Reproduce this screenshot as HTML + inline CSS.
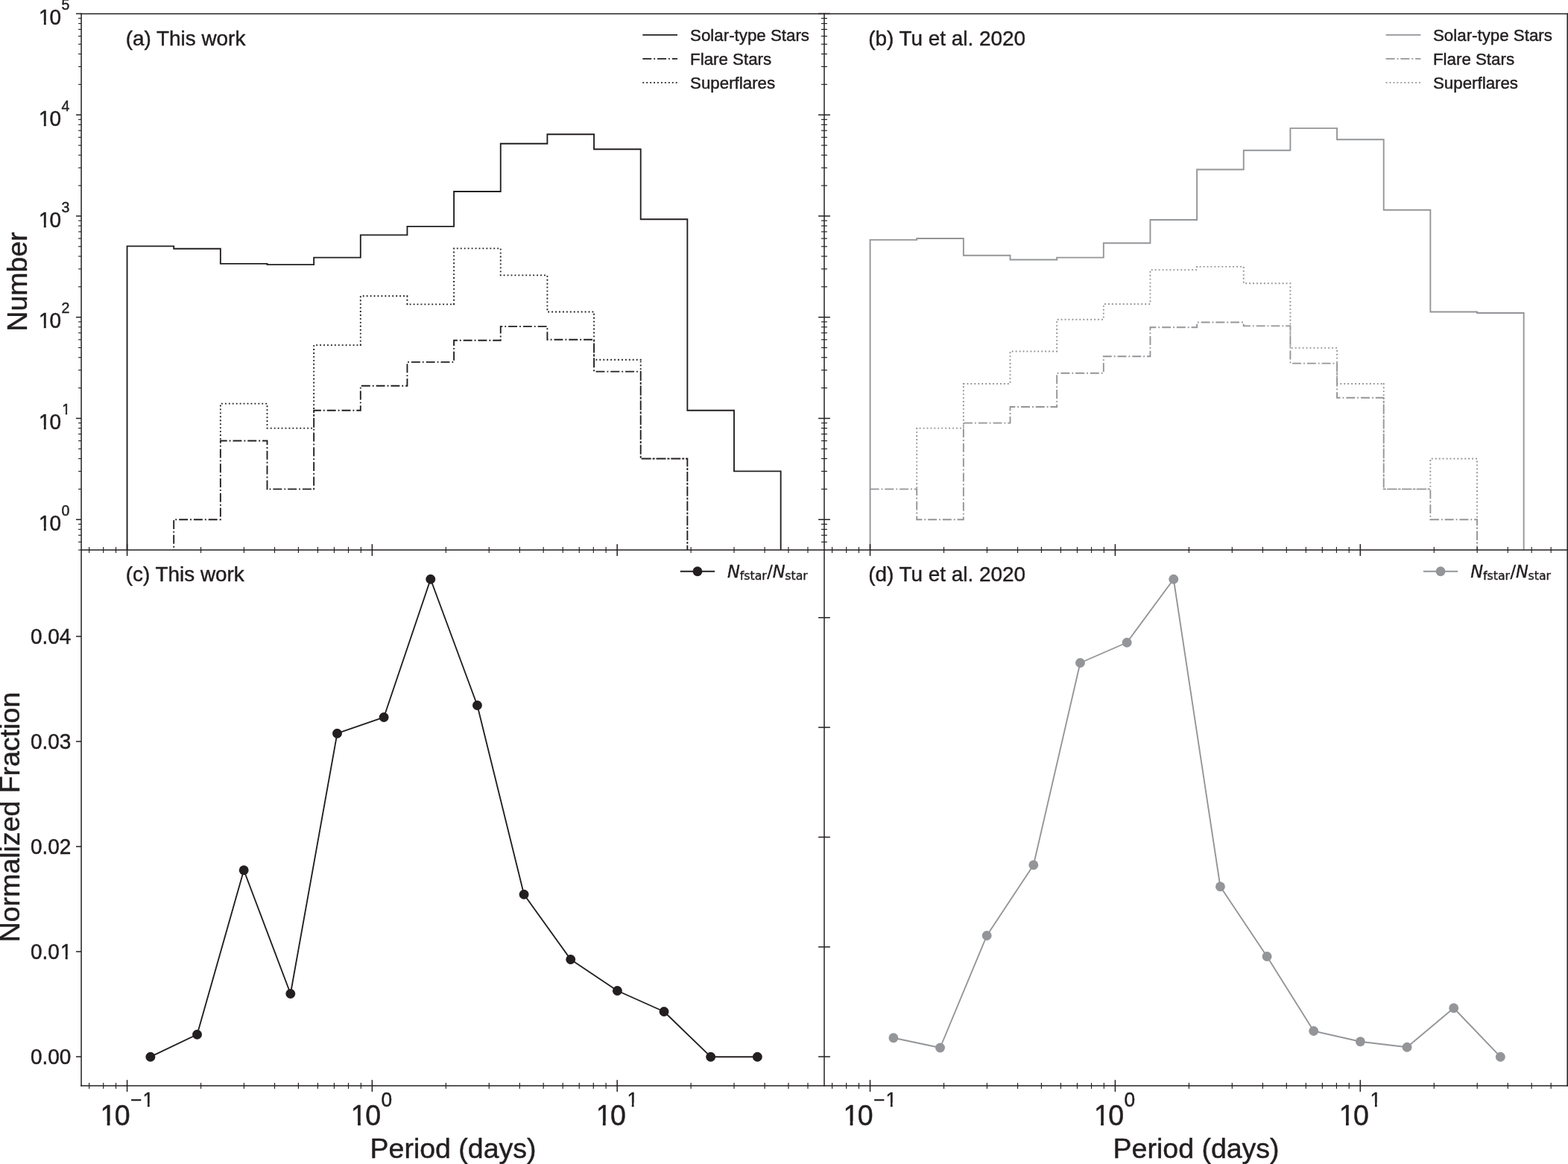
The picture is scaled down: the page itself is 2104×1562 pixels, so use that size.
<!DOCTYPE html>
<html lang="en">
<head>
<meta charset="utf-8">
<title>Period distributions of solar-type stars, flare stars and superflares</title>
<style>
html, body { margin: 0; padding: 0; background: #fff; }
body { width: 2104px; height: 1562px; overflow: hidden; }
svg { display: block; }
text { white-space: pre; }
</style>
</head>
<body>
<svg xmlns="http://www.w3.org/2000/svg" width="2104" height="1562" viewBox="0 0 2104 1562">
<rect width="2104" height="1562" fill="#fff"/>
<defs><clipPath id="k0"><path clip-rule="evenodd" d="M-9 -28H40.14V11.2H-9ZM1.75 -5.09H7.94V2H1.75ZM10.87 -5.09H16.82V2H10.87Z"/></clipPath><clipPath id="k1"><path clip-rule="evenodd" d="M-9 -19.6H19.9V7.84H-9ZM0.77 -4.46H5.49V2H0.77ZM7.67 -4.46H12.22V2H7.67Z"/></clipPath><clipPath id="k2"><path clip-rule="evenodd" d="M-9 -28H63.5V11.2H-9ZM40.67 -5.09H46.86V2H40.67ZM49.79 -5.09H55.74V2H49.79Z"/></clipPath><clipPath id="k3"><path clip-rule="evenodd" d="M-9 -37.5H50.71V15H-9ZM2.85 -5.8H10.71V2H2.85ZM14.48 -5.8H22.01V2H14.48Z"/></clipPath><clipPath id="k4"><path clip-rule="evenodd" d="M-9 -26.25H38.93V10.5H-9ZM16.87 -4.96H22.76V2H16.87ZM25.53 -4.96H31.19V2H25.53Z"/></clipPath><clipPath id="k5"><path clip-rule="evenodd" d="M-9 -26.25H23.6V10.5H-9ZM1.54 -4.96H7.43V2H1.54ZM10.2 -4.96H15.86V2H10.2Z"/></clipPath></defs>
<g fill="none" stroke="#231f20" stroke-width="1.875" stroke-linejoin="miter">
<path d="M608.16 333.32H609.82M612.89 333.32H614.76M617.83 333.32H619.7M622.77 333.32H624.64M627.71 333.32H629.58M632.65 333.32H634.52M637.59 333.32H639.46M642.53 333.32H644.4M647.47 333.32H649.34M652.41 333.32H654.28M657.35 333.32H659.22M662.29 333.32H664.16M667.23 333.32H669.1M670.81 369.34H672.59M675.67 369.34H677.53M680.61 369.34H682.47M685.55 369.34H687.41M690.49 369.34H692.35M695.43 369.34H697.29M700.37 369.34H702.23M705.31 369.34H707.17M710.25 369.34H712.11M715.19 369.34H717.05M720.13 369.34H721.99M725.07 369.34H726.93M730.01 369.34H731.87M486.77 397.24H488.63M491.71 397.24H493.57M496.65 397.24H498.51M501.59 397.24H503.45M506.53 397.24H508.39M511.47 397.24H513.33M516.41 397.24H518.27M521.35 397.24H523.21M526.29 397.24H528.15M531.23 397.24H533.09M536.17 397.24H538.03M541.11 397.24H542.97M546.05 397.24H547.39M545.51 408.43H546.6M549.68 408.43H551.54M554.62 408.43H556.48M559.56 408.43H561.42M564.5 408.43H566.36M569.44 408.43H571.3M574.38 408.43H576.24M579.32 408.43H581.18M584.26 408.43H586.12M589.2 408.43H591.06M594.14 408.43H596M599.08 408.43H600.94M604.02 408.43H605.88M608.96 408.43H610.04M735.22 418.48H737.08M740.16 418.48H742.02M745.1 418.48H746.96M750.04 418.48H751.9M754.98 418.48H756.84M759.92 418.48H761.78M764.86 418.48H766.72M769.8 418.48H771.66M774.74 418.48H776.6M779.68 418.48H781.54M784.62 418.48H786.48M789.56 418.48H791.42M794.5 418.48H796.36M670.81 438.11H674.27M677.26 438.11H679.12M682.11 438.11H694.05M697.03 438.11H698.9M701.88 438.11H713.82M716.81 438.11H718.67M721.66 438.11H733.6M733.46 455.8H735.68M738.67 455.8H740.53M743.52 455.8H755.46M758.44 455.8H760.31M763.29 455.8H775.23M778.22 455.8H780.08M783.07 455.8H795.01M608.16 456.79H613.85M616.84 456.79H618.7M621.69 456.79H633.63M636.61 456.79H638.48M641.46 456.79H653.4M656.39 456.79H658.26M661.24 456.79H672.69M424.2 463.11H426.07M429.14 463.11H431.01M434.08 463.11H435.95M439.02 463.11H440.89M443.96 463.11H445.83M448.9 463.11H450.77M453.84 463.11H455.71M458.78 463.11H460.65M463.72 463.11H465.59M468.66 463.11H470.53M473.6 463.11H475.47M478.54 463.11H480.41M483.48 463.11H484.74M799.4 482.73H801.27M804.34 482.73H806.21M809.28 482.73H811.15M814.22 482.73H816.09M819.16 482.73H821.03M824.1 482.73H825.97M829.04 482.73H830.91M833.98 482.73H835.85M838.92 482.73H840.79M843.86 482.73H845.73M848.8 482.73H850.67M853.74 482.73H855.61M858.68 482.73H860.64M547.08 485.92H548.95M551.94 485.92H563.88M566.86 485.92H568.73M571.71 485.92H583.65M586.64 485.92H588.5M591.49 485.92H603.43M606.41 485.92H608.28M799.53 498.67H811.47M814.46 498.67H816.32M819.31 498.67H831.25M834.23 498.67H836.1M839.08 498.67H851.02M854.01 498.67H855.87M858.86 498.67H860.64M484.83 517.7H496.77M499.76 517.7H501.63M504.61 517.7H516.55M519.54 517.7H521.4M524.39 517.7H536.33M539.31 517.7H541.18M544.16 517.7H547.39M296.98 541.6H298.85M301.92 541.6H303.79M306.86 541.6H308.73M311.8 541.6H313.67M316.74 541.6H318.61M321.68 541.6H323.55M326.62 541.6H328.49M331.56 541.6H333.43M336.5 541.6H338.37M341.44 541.6H343.31M346.38 541.6H348.25M351.32 541.6H353.19M356.26 541.6H358.13M420.21 550.69H430.89M433.87 550.69H435.74M438.73 550.69H450.67M453.65 550.69H455.52M458.5 550.69H470.44M473.43 550.69H475.29M478.28 550.69H484.74M357.56 574.6H359.71M362.79 574.6H364.65M367.73 574.6H369.59M372.67 574.6H374.53M377.61 574.6H379.47M382.55 574.6H384.41M387.49 574.6H389.35M392.43 574.6H394.29M397.37 574.6H399.23M402.31 574.6H404.17M407.25 574.6H409.11M412.19 574.6H414.05M417.13 574.6H418.99M294.91 591.56H304.67M307.65 591.56H309.52M312.5 591.56H324.44M327.43 591.56H329.29M332.28 591.56H344.22M347.2 591.56H349.07M352.05 591.56H359.44M860.71 615.47H873.74M875.64 615.47H878.68M880.49 615.47H893.5M895.42 615.47H898.44M900.27 615.47H913.26M915.19 615.47H918.2M920.04 615.47H923.29M357.56 656.33H358.55M361.53 656.33H363.4M366.38 656.33H378.32M381.31 656.33H383.17M386.16 656.33H398.1M401.09 656.33H402.95M405.94 656.33H417.88M420.86 656.33H422.09M235.31 697.2H237.17M240.16 697.2H252.1M255.09 697.2H256.95M259.94 697.2H271.88M274.86 697.2H276.73M279.71 697.2H291.65M294.64 697.2H296.79M233.2 698.08V710.02M233.2 713V714.87M233.2 717.85V729.79M233.2 732.78V734.64M233.2 737.63V738.07M295.85 543.55V545.41M295.85 548.49V550.35M295.85 553.43V555.29M295.85 558.37V560.23M295.85 563.31V565.17M295.85 568.25V570.11M295.85 573.19V575.05M295.85 578.13V579.99M295.85 583.07V584.93M295.85 588.01V589.87M295.85 590.62V594.68M295.85 597.67V599.53M295.85 602.52V614.46M295.85 617.45V619.31M295.85 622.3V634.24M295.85 637.22V639.09M295.85 642.07V654.01M295.85 657V658.86M295.85 661.85V673.79M295.85 676.77V678.64M295.85 681.62V693.56M295.85 696.55V698.14M358.5 544.31V546.17M358.5 549.25V551.11M358.5 554.19V556.05M358.5 559.13V560.99M358.5 564.07V565.93M358.5 569.01V570.87M358.5 573.95V575.54M358.5 590.62V597.05M358.5 600.04V601.9M358.5 604.89V616.83M358.5 619.82V621.68M358.5 624.67V636.61M358.5 639.59V641.46M358.5 644.44V657.27M421.15 463.14V465M421.15 468.08V469.94M421.15 473.02V474.88M421.15 477.96V479.82M421.15 482.9V484.76M421.15 487.84V489.7M421.15 492.78V494.64M421.15 497.72V499.58M421.15 502.66V504.52M421.15 507.6V509.46M421.15 512.54V514.4M421.15 517.48V519.34M421.15 522.42V524.28M421.15 527.36V529.22M421.15 532.3V534.16M421.15 537.24V539.1M421.15 542.18V544.04M421.15 547.12V548.98M421.15 549.75V553.92M421.15 555.88V558.86M421.15 560.73V573.68M421.15 575.65V577.52M421.15 580.5V592.44M421.15 595.43V597.3M421.15 600.28V612.22M421.15 615.21V617.07M421.15 620.06V632M421.15 634.98V636.85M421.15 639.83V651.77M421.15 654.76V657.27M483.8 397.35V399.21M483.8 402.29V404.15M483.8 407.23V409.09M483.8 412.17V414.03M483.8 417.11V418.97M483.8 422.05V423.91M483.8 426.99V428.85M483.8 431.93V433.79M483.8 436.87V438.73M483.8 441.81V443.67M483.8 446.75V448.61M483.8 451.69V453.55M483.8 456.63V458.49M483.8 461.57V464.05M483.8 519.65V521.51M483.8 524.5V536.44M483.8 539.42V541.29M483.8 544.27V551.63M546.45 396.3V398.7M546.45 401.77V403.64M546.45 406.71V409.36M546.45 488.27V500.21M546.45 503.19V505.06M546.45 508.04V518.63M609.1 332.38V334.47M609.1 337.54V339.41M609.1 342.48V344.35M609.1 347.42V349.29M609.1 352.36V354.23M609.1 357.3V359.17M609.1 362.24V364.11M609.1 367.18V369.05M609.1 372.12V373.99M609.1 377.06V378.93M609.1 382V383.87M609.1 386.94V388.81M609.1 391.88V393.75M609.1 396.82V398.69M609.1 401.76V403.63M609.1 406.7V409.36M609.1 455.85V463.98M609.1 466.96V468.83M609.1 471.81V483.75M671.75 333.74V335.61M671.75 338.68V340.55M671.75 343.62V345.49M671.75 348.56V350.43M671.75 353.5V355.37M671.75 358.44V360.31M671.75 363.38V365.25M671.75 368.32V370.28M671.75 437.17V447.52M671.75 450.51V452.38M671.75 455.36V457.73M734.4 369.89V371.76M734.4 374.83V376.7M734.4 379.77V381.64M734.4 384.71V386.58M734.4 389.65V391.52M734.4 394.59V396.46M734.4 399.53V401.4M734.4 404.47V406.34M734.4 409.41V411.28M734.4 414.35V416.22M734.4 440.29V442.16M734.4 445.14V456.74M797.05 420.86V422.73M797.05 425.8V427.67M797.05 430.74V432.61M797.05 435.68V437.55M797.05 440.62V442.49M797.05 445.56V447.43M797.05 450.5V452.37M797.05 455.44V458.61M797.05 460.38V473.53M797.05 475.2V478.39M797.05 480.14V493.31M797.05 496.3V498.16M859.7 484.38V486.24M859.7 489.32V491.18M859.7 494.26V496.12M859.7 497.73V510.94M859.7 512.75V515.88M859.7 517.6V530.7M859.7 532.53V535.64M859.7 537.38V550.46M859.7 552.3V555.4M859.7 557.15V570.22M859.7 572.08V575.16M859.7 576.93V589.98M859.7 591.85V594.92M859.7 596.7V609.74M859.7 611.63V614.68M922.35 614.53V626.13M922.35 628.08V631.07M922.35 632.93V645.89M922.35 647.86V650.83M922.35 652.71V665.65M922.35 667.64V670.59M922.35 672.49V685.41M922.35 687.41V690.35M922.35 692.26V705.17M922.35 707.19V710.11M922.35 712.04V724.93M922.35 726.96V729.87M922.35 731.81V738.07"/>
<path d="M170.55 738.07 L170.55 330.32 L233.2 330.32 L233.2 333.81 L295.85 333.81 L295.85 353.88 L358.5 353.88 L358.5 355.11 L421.15 355.11 L421.15 345.59 L483.8 345.59 L483.8 315.32 L546.45 315.32 L546.45 303.82 L609.1 303.82 L609.1 257.03 L671.75 257.03 L671.75 192.72 L734.4 192.72 L734.4 180.2 L797.05 180.2 L797.05 200.2 L859.7 200.2 L859.7 294.26 L922.35 294.26 L922.35 550.69 L985 550.69 L985 632.43 L1047.65 632.43 L1047.65 738.07"/>
</g>
<g fill="none" stroke="#939598" stroke-width="1.875" stroke-linejoin="miter">
<path d="M1605.16 357.84H1606.6M1609.68 357.84H1611.54M1614.62 357.84H1616.48M1619.56 357.84H1621.42M1624.5 357.84H1626.36M1629.44 357.84H1631.3M1634.38 357.84H1636.24M1639.32 357.84H1641.18M1644.26 357.84H1646.12M1649.2 357.84H1651.06M1654.14 357.84H1656M1659.08 357.84H1660.94M1664.02 357.84H1665.88M1544.77 362.1H1546.64M1549.71 362.1H1551.58M1554.65 362.1H1556.52M1559.59 362.1H1561.46M1564.53 362.1H1566.4M1569.47 362.1H1571.34M1574.41 362.1H1576.28M1579.35 362.1H1581.22M1584.29 362.1H1586.16M1589.23 362.1H1591.1M1594.17 362.1H1596.04M1599.11 362.1H1600.98M1604.05 362.1H1605.92M1671.23 380.28H1673.09M1676.17 380.28H1678.03M1681.11 380.28H1682.97M1686.05 380.28H1687.91M1690.99 380.28H1692.85M1695.93 380.28H1697.79M1700.87 380.28H1702.73M1705.81 380.28H1707.67M1710.75 380.28H1712.61M1715.69 380.28H1717.55M1720.63 380.28H1722.49M1725.57 380.28H1727.43M1730.51 380.28H1732.34M1481.98 407.99H1483.85M1486.92 407.99H1488.79M1491.86 407.99H1493.73M1496.8 407.99H1498.67M1501.74 407.99H1503.61M1506.68 407.99H1508.55M1511.62 407.99H1513.49M1516.56 407.99H1518.43M1521.5 407.99H1523.37M1526.44 407.99H1528.31M1531.38 407.99H1533.25M1536.32 407.99H1538.19M1541.26 407.99H1543.13M1418.72 428.7H1420.59M1423.66 428.7H1425.53M1428.6 428.7H1430.47M1433.54 428.7H1435.41M1438.48 428.7H1440.35M1443.42 428.7H1445.29M1448.36 428.7H1450.23M1453.3 428.7H1455.17M1458.24 428.7H1460.11M1463.18 428.7H1465.05M1468.12 428.7H1469.99M1473.06 428.7H1474.93M1478 428.7H1479.87M1606.82 432.55H1608.68M1611.66 432.55H1623.57M1626.54 432.55H1628.4M1631.38 432.55H1643.29M1646.27 432.55H1648.13M1651.1 432.55H1663.01M1665.99 432.55H1667.85M1667.81 437.38H1677.91M1680.88 437.38H1682.74M1685.72 437.38H1697.63M1700.61 437.38H1702.47M1705.45 437.38H1717.35M1720.33 437.38H1722.19M1725.17 437.38H1732.34M1542.51 439.21H1551.33M1554.3 439.21H1556.16M1559.14 439.21H1571.05M1574.03 439.21H1575.89M1578.86 439.21H1590.77M1593.75 439.21H1595.61M1598.59 439.21H1607.04M1732.8 466.9H1734.66M1737.74 466.9H1739.6M1742.68 466.9H1744.54M1747.62 466.9H1749.48M1752.56 466.9H1754.42M1757.5 466.9H1759.36M1762.44 466.9H1764.3M1767.38 466.9H1769.24M1772.32 466.9H1774.18M1777.26 466.9H1779.12M1782.2 466.9H1784.06M1787.14 466.9H1789M1792.08 466.9H1793.94M1357.74 471.46H1359.61M1362.68 471.46H1364.55M1367.62 471.46H1369.49M1372.56 471.46H1374.43M1377.5 471.46H1379.37M1382.44 471.46H1384.31M1387.38 471.46H1389.25M1392.32 471.46H1394.19M1397.26 471.46H1399.13M1402.2 471.46H1404.07M1407.14 471.46H1409.01M1412.08 471.46H1413.95M1417.02 471.46H1419.09M1479.86 478.25H1491.75M1494.73 478.25H1496.59M1499.56 478.25H1511.47M1514.45 478.25H1516.31M1519.29 478.25H1531.2M1534.17 478.25H1536.03M1539.01 478.25H1544.39M1734.14 487.58H1746.05M1749.03 487.58H1750.89M1753.87 487.58H1765.78M1768.75 487.58H1770.61M1773.59 487.58H1785.5M1788.48 487.58H1790.34M1793.32 487.58H1794.99M1418.59 500.74H1420.45M1423.43 500.74H1435.34M1438.32 500.74H1440.18M1443.15 500.74H1455.06M1458.04 500.74H1459.9M1462.88 500.74H1474.79M1477.76 500.74H1479.62M1291.91 514.95H1294.41M1297.49 514.95H1299.35M1302.43 514.95H1304.29M1307.37 514.95H1309.23M1312.31 514.95H1314.17M1317.25 514.95H1319.11M1322.19 514.95H1324.05M1327.13 514.95H1328.99M1332.07 514.95H1333.93M1337.01 514.95H1338.87M1341.95 514.95H1343.81M1346.89 514.95H1348.75M1351.83 514.95H1353.69M1793.11 514.95H1795.29M1798.37 514.95H1800.23M1803.31 514.95H1805.17M1808.25 514.95H1810.11M1813.19 514.95H1815.05M1818.13 514.95H1819.99M1823.07 514.95H1824.93M1828.01 514.95H1829.87M1832.95 514.95H1834.81M1837.89 514.95H1839.75M1842.83 514.95H1844.69M1847.77 514.95H1849.63M1852.71 514.95H1854.57M1793.11 533.73H1798.52M1801.5 533.73H1803.36M1806.34 533.73H1818.24M1821.22 533.73H1823.08M1826.06 533.73H1837.97M1840.94 533.73H1842.81M1845.78 533.73H1857.64M1354.56 545.97H1362.23M1365.21 545.97H1367.07M1370.05 545.97H1381.96M1384.93 545.97H1386.8M1389.77 545.97H1401.68M1404.66 545.97H1406.52M1409.5 545.97H1419.09M1293.11 567.65H1305.02M1308 567.65H1309.86M1312.83 567.65H1324.74M1327.72 567.65H1329.58M1332.56 567.65H1344.47M1347.44 567.65H1349.3M1352.28 567.65H1356.44M1229.26 574.6H1230.56M1233.63 574.6H1235.5M1238.57 574.6H1240.44M1243.51 574.6H1245.38M1248.45 574.6H1250.32M1253.39 574.6H1255.26M1258.33 574.6H1260.2M1263.27 574.6H1265.14M1268.21 574.6H1270.08M1273.15 574.6H1275.02M1278.09 574.6H1279.96M1283.03 574.6H1284.9M1287.97 574.6H1289.84M1920.84 615.47H1922.71M1925.78 615.47H1927.65M1930.72 615.47H1932.59M1935.66 615.47H1937.53M1940.6 615.47H1942.47M1945.54 615.47H1947.41M1950.48 615.47H1952.35M1955.42 615.47H1957.29M1960.36 615.47H1962.23M1965.3 615.47H1967.17M1970.24 615.47H1972.11M1975.18 615.47H1977.05M1980.12 615.47H1981.99M1167.67 656.33H1179.58M1182.56 656.33H1184.42M1187.39 656.33H1199.3M1202.28 656.33H1204.14M1207.12 656.33H1219.03M1222 656.33H1223.86M1226.84 656.33H1231.14M1855.76 656.33H1859.83M1861.25 656.33H1874.65M1876.13 656.33H1879.59M1880.97 656.33H1894.41M1895.86 656.33H1899.35M1900.69 656.33H1914.17M1915.58 656.33H1919.11M1229.26 697.2H1237.33M1240.31 697.2H1242.17M1245.14 697.2H1257.05M1260.03 697.2H1261.89M1264.87 697.2H1276.78M1279.75 697.2H1281.62M1284.59 697.2H1293.79M1918.41 697.2H1930.91M1933.88 697.2H1935.74M1938.72 697.2H1950.63M1953.61 697.2H1955.47M1958.44 697.2H1970.35M1973.33 697.2H1975.19M1978.17 697.2H1982.94M1230.2 573.66V576.1M1230.2 579.18V581.04M1230.2 584.12V585.98M1230.2 589.06V590.92M1230.2 594V595.86M1230.2 598.94V600.8M1230.2 603.88V605.74M1230.2 608.82V610.68M1230.2 613.76V615.62M1230.2 618.7V620.56M1230.2 623.64V625.5M1230.2 628.58V630.44M1230.2 633.52V635.38M1230.2 638.46V640.32M1230.2 643.4V645.26M1230.2 648.34V650.2M1230.2 653.28V655.14M1230.2 655.4V664.88M1230.2 667.86V669.72M1230.2 672.7V684.61M1230.2 687.59V689.45M1230.2 692.42V698.14M1292.85 514.02V515.25M1292.85 518.33V520.19M1292.85 523.27V525.13M1292.85 528.21V530.07M1292.85 533.15V535.01M1292.85 538.09V539.95M1292.85 543.03V544.89M1292.85 547.97V549.83M1292.85 552.91V554.77M1292.85 557.85V559.71M1292.85 562.79V564.65M1292.85 567.73V569.59M1292.85 570.37V572.23M1292.85 572.67V574.53M1292.85 575.21V587.12M1292.85 590.09V591.95M1292.85 594.93V606.84M1292.85 609.82V611.68M1292.85 614.66V626.56M1292.85 629.54V631.4M1292.85 634.38V646.29M1292.85 649.27V651.13M1292.85 654.1V666.01M1292.85 668.99V670.85M1292.85 673.83V685.74M1292.85 688.71V690.57M1292.85 693.55V698.14M1355.5 472.3V474.16M1355.5 477.24V479.1M1355.5 482.18V484.04M1355.5 487.12V488.98M1355.5 492.06V493.92M1355.5 497V498.86M1355.5 501.94V503.8M1355.5 506.88V508.74M1355.5 511.82V513.68M1355.5 545.04V551.15M1355.5 554.12V555.99M1355.5 558.96V568.59M1418.15 431.21V433.07M1418.15 436.15V438.01M1418.15 441.09V442.95M1418.15 446.03V447.89M1418.15 450.97V452.83M1418.15 455.91V457.77M1418.15 460.85V462.71M1418.15 465.79V467.65M1418.15 470.73V472.4M1418.15 503.27V515.18M1418.15 518.16V520.02M1418.15 522.99V534.9M1418.15 537.88V539.74M1418.15 542.72V546.91M1480.8 409.88V411.74M1480.8 414.82V416.68M1480.8 419.76V421.62M1480.8 424.7V426.56M1480.8 477.31V479.21M1480.8 482.19V484.05M1480.8 487.02V498.93M1543.45 363.85V365.71M1543.45 368.79V370.65M1543.45 373.73V375.59M1543.45 378.67V380.53M1543.45 383.61V385.47M1543.45 388.55V390.41M1543.45 393.49V395.35M1543.45 398.43V400.29M1543.45 403.37V405.23M1543.45 438.27V443.24M1543.45 446.22V448.08M1543.45 451.06V462.96M1543.45 465.94V467.8M1543.45 470.78V479.19M1606.1 356.91V359.2M1606.1 434.81V440.14M1668.75 358.05V359.92M1668.75 362.99V364.86M1668.75 367.93V369.8M1668.75 372.87V374.74M1668.75 377.81V379.68M1668.75 434.63V438.32M1731.4 379.34V381.25M1731.4 384.32V386.19M1731.4 389.26V391.13M1731.4 394.2V396.07M1731.4 399.14V401.01M1731.4 404.08V405.95M1731.4 409.02V410.89M1731.4 413.96V415.83M1731.4 418.9V420.77M1731.4 423.84V425.71M1731.4 428.78V430.65M1731.4 433.72V435.59M1731.4 436.44V443.06M1731.4 443.6V445.47M1731.4 446.04V447.9M1731.4 448.54V450.41M1731.4 450.88V462.78M1731.4 463.36V465.23M1731.4 465.76V467.62M1731.4 470.6V482.51M1731.4 485.48V487.35M1794.05 469.87V471.74M1794.05 474.81V476.68M1794.05 479.75V481.62M1794.05 484.69V486.56M1794.05 486.64V498.75M1794.05 499.51V501.38M1794.05 501.73V503.59M1794.05 504.45V506.32M1794.05 506.57V518.48M1794.05 521.45V523.31M1794.05 526.29V534.67M1856.7 514.02V516.21M1856.7 519.28V521.15M1856.7 524.22V526.09M1856.7 529.16V531.03M1856.7 532.79V535.97M1856.7 537.7V540.91M1856.7 542.54V555.73M1856.7 557.42V560.67M1856.7 562.26V575.49M1856.7 577.15V580.43M1856.7 581.98V595.25M1856.7 596.87V600.19M1856.7 601.71V615.01M1856.7 616.59V619.95M1856.7 621.43V634.77M1856.7 636.32V639.71M1856.7 641.16V654.53M1856.7 656.04V657.27M1919.35 617.05V618.91M1919.35 621.99V623.85M1919.35 626.93V628.79M1919.35 631.87V633.73M1919.35 636.81V638.67M1919.35 641.75V643.61M1919.35 646.69V648.55M1919.35 651.63V653.49M1919.35 657.4V669.31M1919.35 672.29V674.15M1919.35 677.12V689.03M1919.35 692.01V693.87M1919.35 696.85V698.14M1982 618.53V620.39M1982 623.47V625.33M1982 628.41V630.27M1982 633.35V635.21M1982 638.29V640.15M1982 643.23V645.09M1982 648.17V650.03M1982 653.11V654.97M1982 658.05V659.91M1982 662.99V664.85M1982 667.93V669.79M1982 672.87V674.73M1982 677.81V679.67M1982 682.75V684.61M1982 687.69V689.55M1982 692.63V694.49M1982 696.26V705.28M1982 707.45V710.12M1982 712.39V725M1982 727.21V729.84M1982 732.15V738.07"/>
<path d="M1167.55 738.07 L1167.55 321.83 L1230.2 321.83 L1230.2 320.04 L1292.85 320.04 L1292.85 342.78 L1355.5 342.78 L1355.5 348.54 L1418.15 348.54 L1418.15 345.59 L1480.8 345.59 L1480.8 326.25 L1543.45 326.25 L1543.45 295.03 L1606.1 295.03 L1606.1 227.49 L1668.75 227.49 L1668.75 201.77 L1731.4 201.77 L1731.4 172.15 L1794.05 172.15 L1794.05 187.2 L1856.7 187.2 L1856.7 281.78 L1919.35 281.78 L1919.35 418.48 L1982 418.48 L1982 420.06 L2044.65 420.06 L2044.65 738.07"/>
</g>
<path d="M201.88 1418.2 L264.53 1388.25 L327.18 1167.75 L389.82 1333.5 L452.47 984.2 L515.12 962.5 L577.78 777.25 L640.43 946.5 L703.08 1200.25 L765.73 1287.5 L828.38 1329.5 L891.03 1357.5 L953.67 1418.2 L1016.33 1418.2" fill="none" stroke="#231f20" stroke-width="1.875" stroke-linejoin="round"/>
<circle cx="201.88" cy="1418.2" r="6.45" fill="#231f20"/>
<circle cx="264.53" cy="1388.25" r="6.45" fill="#231f20"/>
<circle cx="327.18" cy="1167.75" r="6.45" fill="#231f20"/>
<circle cx="389.82" cy="1333.5" r="6.45" fill="#231f20"/>
<circle cx="452.47" cy="984.2" r="6.45" fill="#231f20"/>
<circle cx="515.12" cy="962.5" r="6.45" fill="#231f20"/>
<circle cx="577.78" cy="777.25" r="6.45" fill="#231f20"/>
<circle cx="640.43" cy="946.5" r="6.45" fill="#231f20"/>
<circle cx="703.08" cy="1200.25" r="6.45" fill="#231f20"/>
<circle cx="765.73" cy="1287.5" r="6.45" fill="#231f20"/>
<circle cx="828.38" cy="1329.5" r="6.45" fill="#231f20"/>
<circle cx="891.03" cy="1357.5" r="6.45" fill="#231f20"/>
<circle cx="953.67" cy="1418.2" r="6.45" fill="#231f20"/>
<circle cx="1016.33" cy="1418.2" r="6.45" fill="#231f20"/>
<path d="M1198.88 1392.75 L1261.53 1406 L1324.17 1255.5 L1386.83 1160.75 L1449.47 889.5 L1512.12 862.25 L1574.77 777.25 L1637.42 1189.75 L1700.08 1283.5 L1762.73 1383.5 L1825.38 1397.75 L1888.02 1405.25 L1950.67 1352.75 L2013.33 1418.2" fill="none" stroke="#939598" stroke-width="1.875" stroke-linejoin="round"/>
<circle cx="1198.88" cy="1392.75" r="6.45" fill="#939598"/>
<circle cx="1261.53" cy="1406" r="6.45" fill="#939598"/>
<circle cx="1324.17" cy="1255.5" r="6.45" fill="#939598"/>
<circle cx="1386.83" cy="1160.75" r="6.45" fill="#939598"/>
<circle cx="1449.47" cy="889.5" r="6.45" fill="#939598"/>
<circle cx="1512.12" cy="862.25" r="6.45" fill="#939598"/>
<circle cx="1574.77" cy="777.25" r="6.45" fill="#939598"/>
<circle cx="1637.42" cy="1189.75" r="6.45" fill="#939598"/>
<circle cx="1700.08" cy="1283.5" r="6.45" fill="#939598"/>
<circle cx="1762.73" cy="1383.5" r="6.45" fill="#939598"/>
<circle cx="1825.38" cy="1397.75" r="6.45" fill="#939598"/>
<circle cx="1888.02" cy="1405.25" r="6.45" fill="#939598"/>
<circle cx="1950.67" cy="1352.75" r="6.45" fill="#939598"/>
<circle cx="2013.33" cy="1418.2" r="6.45" fill="#939598"/>
<g stroke="#231f20" fill="none">
<line x1="119.65" y1="734.07" x2="119.65" y2="742.07" stroke="#231f20" stroke-width="1.15"/>
<line x1="138.72" y1="734.07" x2="138.72" y2="742.07" stroke="#231f20" stroke-width="1.15"/>
<line x1="155.54" y1="734.07" x2="155.54" y2="742.07" stroke="#231f20" stroke-width="1.15"/>
<line x1="170.58" y1="730.17" x2="170.58" y2="745.97" stroke="#231f20" stroke-width="1.5"/>
<line x1="269.55" y1="734.07" x2="269.55" y2="742.07" stroke="#231f20" stroke-width="1.15"/>
<line x1="327.45" y1="734.07" x2="327.45" y2="742.07" stroke="#231f20" stroke-width="1.15"/>
<line x1="368.53" y1="734.07" x2="368.53" y2="742.07" stroke="#231f20" stroke-width="1.15"/>
<line x1="400.39" y1="734.07" x2="400.39" y2="742.07" stroke="#231f20" stroke-width="1.15"/>
<line x1="426.42" y1="734.07" x2="426.42" y2="742.07" stroke="#231f20" stroke-width="1.15"/>
<line x1="448.43" y1="734.07" x2="448.43" y2="742.07" stroke="#231f20" stroke-width="1.15"/>
<line x1="467.5" y1="734.07" x2="467.5" y2="742.07" stroke="#231f20" stroke-width="1.15"/>
<line x1="484.32" y1="734.07" x2="484.32" y2="742.07" stroke="#231f20" stroke-width="1.15"/>
<line x1="499.36" y1="730.17" x2="499.36" y2="745.97" stroke="#231f20" stroke-width="1.5"/>
<line x1="598.34" y1="734.07" x2="598.34" y2="742.07" stroke="#231f20" stroke-width="1.15"/>
<line x1="656.23" y1="734.07" x2="656.23" y2="742.07" stroke="#231f20" stroke-width="1.15"/>
<line x1="697.31" y1="734.07" x2="697.31" y2="742.07" stroke="#231f20" stroke-width="1.15"/>
<line x1="729.17" y1="734.07" x2="729.17" y2="742.07" stroke="#231f20" stroke-width="1.15"/>
<line x1="755.21" y1="734.07" x2="755.21" y2="742.07" stroke="#231f20" stroke-width="1.15"/>
<line x1="777.22" y1="734.07" x2="777.22" y2="742.07" stroke="#231f20" stroke-width="1.15"/>
<line x1="796.28" y1="734.07" x2="796.28" y2="742.07" stroke="#231f20" stroke-width="1.15"/>
<line x1="813.1" y1="734.07" x2="813.1" y2="742.07" stroke="#231f20" stroke-width="1.15"/>
<line x1="828.15" y1="730.17" x2="828.15" y2="745.97" stroke="#231f20" stroke-width="1.5"/>
<line x1="927.12" y1="734.07" x2="927.12" y2="742.07" stroke="#231f20" stroke-width="1.15"/>
<line x1="985.02" y1="734.07" x2="985.02" y2="742.07" stroke="#231f20" stroke-width="1.15"/>
<line x1="1026.09" y1="734.07" x2="1026.09" y2="742.07" stroke="#231f20" stroke-width="1.15"/>
<line x1="1057.96" y1="734.07" x2="1057.96" y2="742.07" stroke="#231f20" stroke-width="1.15"/>
<line x1="1083.99" y1="734.07" x2="1083.99" y2="742.07" stroke="#231f20" stroke-width="1.15"/>
<line x1="1116.58" y1="734.07" x2="1116.58" y2="742.07" stroke="#231f20" stroke-width="1.15"/>
<line x1="1135.66" y1="734.07" x2="1135.66" y2="742.07" stroke="#231f20" stroke-width="1.15"/>
<line x1="1152.48" y1="734.07" x2="1152.48" y2="742.07" stroke="#231f20" stroke-width="1.15"/>
<line x1="1167.53" y1="730.17" x2="1167.53" y2="745.97" stroke="#231f20" stroke-width="1.5"/>
<line x1="1266.53" y1="734.07" x2="1266.53" y2="742.07" stroke="#231f20" stroke-width="1.15"/>
<line x1="1324.44" y1="734.07" x2="1324.44" y2="742.07" stroke="#231f20" stroke-width="1.15"/>
<line x1="1365.53" y1="734.07" x2="1365.53" y2="742.07" stroke="#231f20" stroke-width="1.15"/>
<line x1="1397.4" y1="734.07" x2="1397.4" y2="742.07" stroke="#231f20" stroke-width="1.15"/>
<line x1="1423.44" y1="734.07" x2="1423.44" y2="742.07" stroke="#231f20" stroke-width="1.15"/>
<line x1="1445.46" y1="734.07" x2="1445.46" y2="742.07" stroke="#231f20" stroke-width="1.15"/>
<line x1="1464.53" y1="734.07" x2="1464.53" y2="742.07" stroke="#231f20" stroke-width="1.15"/>
<line x1="1481.35" y1="734.07" x2="1481.35" y2="742.07" stroke="#231f20" stroke-width="1.15"/>
<line x1="1496.4" y1="730.17" x2="1496.4" y2="745.97" stroke="#231f20" stroke-width="1.5"/>
<line x1="1595.4" y1="734.07" x2="1595.4" y2="742.07" stroke="#231f20" stroke-width="1.15"/>
<line x1="1653.31" y1="734.07" x2="1653.31" y2="742.07" stroke="#231f20" stroke-width="1.15"/>
<line x1="1694.4" y1="734.07" x2="1694.4" y2="742.07" stroke="#231f20" stroke-width="1.15"/>
<line x1="1726.27" y1="734.07" x2="1726.27" y2="742.07" stroke="#231f20" stroke-width="1.15"/>
<line x1="1752.31" y1="734.07" x2="1752.31" y2="742.07" stroke="#231f20" stroke-width="1.15"/>
<line x1="1774.33" y1="734.07" x2="1774.33" y2="742.07" stroke="#231f20" stroke-width="1.15"/>
<line x1="1793.4" y1="734.07" x2="1793.4" y2="742.07" stroke="#231f20" stroke-width="1.15"/>
<line x1="1810.22" y1="734.07" x2="1810.22" y2="742.07" stroke="#231f20" stroke-width="1.15"/>
<line x1="1825.27" y1="730.17" x2="1825.27" y2="745.97" stroke="#231f20" stroke-width="1.5"/>
<line x1="1924.27" y1="734.07" x2="1924.27" y2="742.07" stroke="#231f20" stroke-width="1.15"/>
<line x1="1982.18" y1="734.07" x2="1982.18" y2="742.07" stroke="#231f20" stroke-width="1.15"/>
<line x1="2023.27" y1="734.07" x2="2023.27" y2="742.07" stroke="#231f20" stroke-width="1.15"/>
<line x1="2055.14" y1="734.07" x2="2055.14" y2="742.07" stroke="#231f20" stroke-width="1.15"/>
<line x1="2081.18" y1="734.07" x2="2081.18" y2="742.07" stroke="#231f20" stroke-width="1.15"/>
<line x1="119.65" y1="1453.1" x2="119.65" y2="1461.1" stroke="#231f20" stroke-width="1.15"/>
<line x1="138.72" y1="1453.1" x2="138.72" y2="1461.1" stroke="#231f20" stroke-width="1.15"/>
<line x1="155.54" y1="1453.1" x2="155.54" y2="1461.1" stroke="#231f20" stroke-width="1.15"/>
<line x1="170.58" y1="1449.2" x2="170.58" y2="1465" stroke="#231f20" stroke-width="1.5"/>
<line x1="269.55" y1="1453.1" x2="269.55" y2="1461.1" stroke="#231f20" stroke-width="1.15"/>
<line x1="327.45" y1="1453.1" x2="327.45" y2="1461.1" stroke="#231f20" stroke-width="1.15"/>
<line x1="368.53" y1="1453.1" x2="368.53" y2="1461.1" stroke="#231f20" stroke-width="1.15"/>
<line x1="400.39" y1="1453.1" x2="400.39" y2="1461.1" stroke="#231f20" stroke-width="1.15"/>
<line x1="426.42" y1="1453.1" x2="426.42" y2="1461.1" stroke="#231f20" stroke-width="1.15"/>
<line x1="448.43" y1="1453.1" x2="448.43" y2="1461.1" stroke="#231f20" stroke-width="1.15"/>
<line x1="467.5" y1="1453.1" x2="467.5" y2="1461.1" stroke="#231f20" stroke-width="1.15"/>
<line x1="484.32" y1="1453.1" x2="484.32" y2="1461.1" stroke="#231f20" stroke-width="1.15"/>
<line x1="499.36" y1="1449.2" x2="499.36" y2="1465" stroke="#231f20" stroke-width="1.5"/>
<line x1="598.34" y1="1453.1" x2="598.34" y2="1461.1" stroke="#231f20" stroke-width="1.15"/>
<line x1="656.23" y1="1453.1" x2="656.23" y2="1461.1" stroke="#231f20" stroke-width="1.15"/>
<line x1="697.31" y1="1453.1" x2="697.31" y2="1461.1" stroke="#231f20" stroke-width="1.15"/>
<line x1="729.17" y1="1453.1" x2="729.17" y2="1461.1" stroke="#231f20" stroke-width="1.15"/>
<line x1="755.21" y1="1453.1" x2="755.21" y2="1461.1" stroke="#231f20" stroke-width="1.15"/>
<line x1="777.22" y1="1453.1" x2="777.22" y2="1461.1" stroke="#231f20" stroke-width="1.15"/>
<line x1="796.28" y1="1453.1" x2="796.28" y2="1461.1" stroke="#231f20" stroke-width="1.15"/>
<line x1="813.1" y1="1453.1" x2="813.1" y2="1461.1" stroke="#231f20" stroke-width="1.15"/>
<line x1="828.15" y1="1449.2" x2="828.15" y2="1465" stroke="#231f20" stroke-width="1.5"/>
<line x1="927.12" y1="1453.1" x2="927.12" y2="1461.1" stroke="#231f20" stroke-width="1.15"/>
<line x1="985.02" y1="1453.1" x2="985.02" y2="1461.1" stroke="#231f20" stroke-width="1.15"/>
<line x1="1026.09" y1="1453.1" x2="1026.09" y2="1461.1" stroke="#231f20" stroke-width="1.15"/>
<line x1="1057.96" y1="1453.1" x2="1057.96" y2="1461.1" stroke="#231f20" stroke-width="1.15"/>
<line x1="1083.99" y1="1453.1" x2="1083.99" y2="1461.1" stroke="#231f20" stroke-width="1.15"/>
<line x1="1116.58" y1="1453.1" x2="1116.58" y2="1461.1" stroke="#231f20" stroke-width="1.15"/>
<line x1="1135.66" y1="1453.1" x2="1135.66" y2="1461.1" stroke="#231f20" stroke-width="1.15"/>
<line x1="1152.48" y1="1453.1" x2="1152.48" y2="1461.1" stroke="#231f20" stroke-width="1.15"/>
<line x1="1167.53" y1="1449.2" x2="1167.53" y2="1465" stroke="#231f20" stroke-width="1.5"/>
<line x1="1266.53" y1="1453.1" x2="1266.53" y2="1461.1" stroke="#231f20" stroke-width="1.15"/>
<line x1="1324.44" y1="1453.1" x2="1324.44" y2="1461.1" stroke="#231f20" stroke-width="1.15"/>
<line x1="1365.53" y1="1453.1" x2="1365.53" y2="1461.1" stroke="#231f20" stroke-width="1.15"/>
<line x1="1397.4" y1="1453.1" x2="1397.4" y2="1461.1" stroke="#231f20" stroke-width="1.15"/>
<line x1="1423.44" y1="1453.1" x2="1423.44" y2="1461.1" stroke="#231f20" stroke-width="1.15"/>
<line x1="1445.46" y1="1453.1" x2="1445.46" y2="1461.1" stroke="#231f20" stroke-width="1.15"/>
<line x1="1464.53" y1="1453.1" x2="1464.53" y2="1461.1" stroke="#231f20" stroke-width="1.15"/>
<line x1="1481.35" y1="1453.1" x2="1481.35" y2="1461.1" stroke="#231f20" stroke-width="1.15"/>
<line x1="1496.4" y1="1449.2" x2="1496.4" y2="1465" stroke="#231f20" stroke-width="1.5"/>
<line x1="1595.4" y1="1453.1" x2="1595.4" y2="1461.1" stroke="#231f20" stroke-width="1.15"/>
<line x1="1653.31" y1="1453.1" x2="1653.31" y2="1461.1" stroke="#231f20" stroke-width="1.15"/>
<line x1="1694.4" y1="1453.1" x2="1694.4" y2="1461.1" stroke="#231f20" stroke-width="1.15"/>
<line x1="1726.27" y1="1453.1" x2="1726.27" y2="1461.1" stroke="#231f20" stroke-width="1.15"/>
<line x1="1752.31" y1="1453.1" x2="1752.31" y2="1461.1" stroke="#231f20" stroke-width="1.15"/>
<line x1="1774.33" y1="1453.1" x2="1774.33" y2="1461.1" stroke="#231f20" stroke-width="1.15"/>
<line x1="1793.4" y1="1453.1" x2="1793.4" y2="1461.1" stroke="#231f20" stroke-width="1.15"/>
<line x1="1810.22" y1="1453.1" x2="1810.22" y2="1461.1" stroke="#231f20" stroke-width="1.15"/>
<line x1="1825.27" y1="1449.2" x2="1825.27" y2="1465" stroke="#231f20" stroke-width="1.5"/>
<line x1="1924.27" y1="1453.1" x2="1924.27" y2="1461.1" stroke="#231f20" stroke-width="1.15"/>
<line x1="1982.18" y1="1453.1" x2="1982.18" y2="1461.1" stroke="#231f20" stroke-width="1.15"/>
<line x1="2023.27" y1="1453.1" x2="2023.27" y2="1461.1" stroke="#231f20" stroke-width="1.15"/>
<line x1="2055.14" y1="1453.1" x2="2055.14" y2="1461.1" stroke="#231f20" stroke-width="1.15"/>
<line x1="2081.18" y1="1453.1" x2="2081.18" y2="1461.1" stroke="#231f20" stroke-width="1.15"/>
<line x1="105.12" y1="727.32" x2="109.07" y2="727.32" stroke="#231f20" stroke-width="1.15"/>
<line x1="105.12" y1="718.23" x2="109.07" y2="718.23" stroke="#231f20" stroke-width="1.15"/>
<line x1="105.12" y1="710.36" x2="109.07" y2="710.36" stroke="#231f20" stroke-width="1.15"/>
<line x1="105.12" y1="703.41" x2="109.07" y2="703.41" stroke="#231f20" stroke-width="1.15"/>
<line x1="102.02" y1="697.2" x2="109.07" y2="697.2" stroke="#231f20" stroke-width="1.5"/>
<line x1="105.12" y1="656.33" x2="109.07" y2="656.33" stroke="#231f20" stroke-width="1.15"/>
<line x1="105.12" y1="632.43" x2="109.07" y2="632.43" stroke="#231f20" stroke-width="1.15"/>
<line x1="105.12" y1="615.47" x2="109.07" y2="615.47" stroke="#231f20" stroke-width="1.15"/>
<line x1="105.12" y1="602.31" x2="109.07" y2="602.31" stroke="#231f20" stroke-width="1.15"/>
<line x1="105.12" y1="591.56" x2="109.07" y2="591.56" stroke="#231f20" stroke-width="1.15"/>
<line x1="105.12" y1="582.47" x2="109.07" y2="582.47" stroke="#231f20" stroke-width="1.15"/>
<line x1="105.12" y1="574.6" x2="109.07" y2="574.6" stroke="#231f20" stroke-width="1.15"/>
<line x1="105.12" y1="567.65" x2="109.07" y2="567.65" stroke="#231f20" stroke-width="1.15"/>
<line x1="102.02" y1="561.44" x2="109.07" y2="561.44" stroke="#231f20" stroke-width="1.5"/>
<line x1="105.12" y1="520.57" x2="109.07" y2="520.57" stroke="#231f20" stroke-width="1.15"/>
<line x1="105.12" y1="496.67" x2="109.07" y2="496.67" stroke="#231f20" stroke-width="1.15"/>
<line x1="105.12" y1="479.71" x2="109.07" y2="479.71" stroke="#231f20" stroke-width="1.15"/>
<line x1="105.12" y1="466.55" x2="109.07" y2="466.55" stroke="#231f20" stroke-width="1.15"/>
<line x1="105.12" y1="455.8" x2="109.07" y2="455.8" stroke="#231f20" stroke-width="1.15"/>
<line x1="105.12" y1="446.71" x2="109.07" y2="446.71" stroke="#231f20" stroke-width="1.15"/>
<line x1="105.12" y1="438.84" x2="109.07" y2="438.84" stroke="#231f20" stroke-width="1.15"/>
<line x1="105.12" y1="431.89" x2="109.07" y2="431.89" stroke="#231f20" stroke-width="1.15"/>
<line x1="102.02" y1="425.68" x2="109.07" y2="425.68" stroke="#231f20" stroke-width="1.5"/>
<line x1="105.12" y1="384.81" x2="109.07" y2="384.81" stroke="#231f20" stroke-width="1.15"/>
<line x1="105.12" y1="360.91" x2="109.07" y2="360.91" stroke="#231f20" stroke-width="1.15"/>
<line x1="105.12" y1="343.95" x2="109.07" y2="343.95" stroke="#231f20" stroke-width="1.15"/>
<line x1="105.12" y1="330.79" x2="109.07" y2="330.79" stroke="#231f20" stroke-width="1.15"/>
<line x1="105.12" y1="320.04" x2="109.07" y2="320.04" stroke="#231f20" stroke-width="1.15"/>
<line x1="105.12" y1="310.95" x2="109.07" y2="310.95" stroke="#231f20" stroke-width="1.15"/>
<line x1="105.12" y1="303.08" x2="109.07" y2="303.08" stroke="#231f20" stroke-width="1.15"/>
<line x1="105.12" y1="296.13" x2="109.07" y2="296.13" stroke="#231f20" stroke-width="1.15"/>
<line x1="102.02" y1="289.92" x2="109.07" y2="289.92" stroke="#231f20" stroke-width="1.5"/>
<line x1="105.12" y1="249.05" x2="109.07" y2="249.05" stroke="#231f20" stroke-width="1.15"/>
<line x1="105.12" y1="225.15" x2="109.07" y2="225.15" stroke="#231f20" stroke-width="1.15"/>
<line x1="105.12" y1="208.18" x2="109.07" y2="208.18" stroke="#231f20" stroke-width="1.15"/>
<line x1="105.12" y1="195.03" x2="109.07" y2="195.03" stroke="#231f20" stroke-width="1.15"/>
<line x1="105.12" y1="184.28" x2="109.07" y2="184.28" stroke="#231f20" stroke-width="1.15"/>
<line x1="105.12" y1="175.19" x2="109.07" y2="175.19" stroke="#231f20" stroke-width="1.15"/>
<line x1="105.12" y1="167.32" x2="109.07" y2="167.32" stroke="#231f20" stroke-width="1.15"/>
<line x1="105.12" y1="160.37" x2="109.07" y2="160.37" stroke="#231f20" stroke-width="1.15"/>
<line x1="102.02" y1="154.16" x2="109.07" y2="154.16" stroke="#231f20" stroke-width="1.5"/>
<line x1="105.12" y1="113.29" x2="109.07" y2="113.29" stroke="#231f20" stroke-width="1.15"/>
<line x1="105.12" y1="89.39" x2="109.07" y2="89.39" stroke="#231f20" stroke-width="1.15"/>
<line x1="105.12" y1="72.42" x2="109.07" y2="72.42" stroke="#231f20" stroke-width="1.15"/>
<line x1="105.12" y1="59.27" x2="109.07" y2="59.27" stroke="#231f20" stroke-width="1.15"/>
<line x1="105.12" y1="48.52" x2="109.07" y2="48.52" stroke="#231f20" stroke-width="1.15"/>
<line x1="105.12" y1="39.43" x2="109.07" y2="39.43" stroke="#231f20" stroke-width="1.15"/>
<line x1="105.12" y1="31.56" x2="109.07" y2="31.56" stroke="#231f20" stroke-width="1.15"/>
<line x1="105.12" y1="24.61" x2="109.07" y2="24.61" stroke="#231f20" stroke-width="1.15"/>
<line x1="102.02" y1="18.4" x2="109.07" y2="18.4" stroke="#231f20" stroke-width="1.5"/>
<line x1="1102" y1="727.32" x2="1110" y2="727.32" stroke="#231f20" stroke-width="1.15"/>
<line x1="1102" y1="718.23" x2="1110" y2="718.23" stroke="#231f20" stroke-width="1.15"/>
<line x1="1102" y1="710.36" x2="1110" y2="710.36" stroke="#231f20" stroke-width="1.15"/>
<line x1="1102" y1="703.41" x2="1110" y2="703.41" stroke="#231f20" stroke-width="1.15"/>
<line x1="1098.1" y1="697.2" x2="1113.9" y2="697.2" stroke="#231f20" stroke-width="1.5"/>
<line x1="1102" y1="656.33" x2="1110" y2="656.33" stroke="#231f20" stroke-width="1.15"/>
<line x1="1102" y1="632.43" x2="1110" y2="632.43" stroke="#231f20" stroke-width="1.15"/>
<line x1="1102" y1="615.47" x2="1110" y2="615.47" stroke="#231f20" stroke-width="1.15"/>
<line x1="1102" y1="602.31" x2="1110" y2="602.31" stroke="#231f20" stroke-width="1.15"/>
<line x1="1102" y1="591.56" x2="1110" y2="591.56" stroke="#231f20" stroke-width="1.15"/>
<line x1="1102" y1="582.47" x2="1110" y2="582.47" stroke="#231f20" stroke-width="1.15"/>
<line x1="1102" y1="574.6" x2="1110" y2="574.6" stroke="#231f20" stroke-width="1.15"/>
<line x1="1102" y1="567.65" x2="1110" y2="567.65" stroke="#231f20" stroke-width="1.15"/>
<line x1="1098.1" y1="561.44" x2="1113.9" y2="561.44" stroke="#231f20" stroke-width="1.5"/>
<line x1="1102" y1="520.57" x2="1110" y2="520.57" stroke="#231f20" stroke-width="1.15"/>
<line x1="1102" y1="496.67" x2="1110" y2="496.67" stroke="#231f20" stroke-width="1.15"/>
<line x1="1102" y1="479.71" x2="1110" y2="479.71" stroke="#231f20" stroke-width="1.15"/>
<line x1="1102" y1="466.55" x2="1110" y2="466.55" stroke="#231f20" stroke-width="1.15"/>
<line x1="1102" y1="455.8" x2="1110" y2="455.8" stroke="#231f20" stroke-width="1.15"/>
<line x1="1102" y1="446.71" x2="1110" y2="446.71" stroke="#231f20" stroke-width="1.15"/>
<line x1="1102" y1="438.84" x2="1110" y2="438.84" stroke="#231f20" stroke-width="1.15"/>
<line x1="1102" y1="431.89" x2="1110" y2="431.89" stroke="#231f20" stroke-width="1.15"/>
<line x1="1098.1" y1="425.68" x2="1113.9" y2="425.68" stroke="#231f20" stroke-width="1.5"/>
<line x1="1102" y1="384.81" x2="1110" y2="384.81" stroke="#231f20" stroke-width="1.15"/>
<line x1="1102" y1="360.91" x2="1110" y2="360.91" stroke="#231f20" stroke-width="1.15"/>
<line x1="1102" y1="343.95" x2="1110" y2="343.95" stroke="#231f20" stroke-width="1.15"/>
<line x1="1102" y1="330.79" x2="1110" y2="330.79" stroke="#231f20" stroke-width="1.15"/>
<line x1="1102" y1="320.04" x2="1110" y2="320.04" stroke="#231f20" stroke-width="1.15"/>
<line x1="1102" y1="310.95" x2="1110" y2="310.95" stroke="#231f20" stroke-width="1.15"/>
<line x1="1102" y1="303.08" x2="1110" y2="303.08" stroke="#231f20" stroke-width="1.15"/>
<line x1="1102" y1="296.13" x2="1110" y2="296.13" stroke="#231f20" stroke-width="1.15"/>
<line x1="1098.1" y1="289.92" x2="1113.9" y2="289.92" stroke="#231f20" stroke-width="1.5"/>
<line x1="1102" y1="249.05" x2="1110" y2="249.05" stroke="#231f20" stroke-width="1.15"/>
<line x1="1102" y1="225.15" x2="1110" y2="225.15" stroke="#231f20" stroke-width="1.15"/>
<line x1="1102" y1="208.18" x2="1110" y2="208.18" stroke="#231f20" stroke-width="1.15"/>
<line x1="1102" y1="195.03" x2="1110" y2="195.03" stroke="#231f20" stroke-width="1.15"/>
<line x1="1102" y1="184.28" x2="1110" y2="184.28" stroke="#231f20" stroke-width="1.15"/>
<line x1="1102" y1="175.19" x2="1110" y2="175.19" stroke="#231f20" stroke-width="1.15"/>
<line x1="1102" y1="167.32" x2="1110" y2="167.32" stroke="#231f20" stroke-width="1.15"/>
<line x1="1102" y1="160.37" x2="1110" y2="160.37" stroke="#231f20" stroke-width="1.15"/>
<line x1="1098.1" y1="154.16" x2="1113.9" y2="154.16" stroke="#231f20" stroke-width="1.5"/>
<line x1="1102" y1="113.29" x2="1110" y2="113.29" stroke="#231f20" stroke-width="1.15"/>
<line x1="1102" y1="89.39" x2="1110" y2="89.39" stroke="#231f20" stroke-width="1.15"/>
<line x1="1102" y1="72.42" x2="1110" y2="72.42" stroke="#231f20" stroke-width="1.15"/>
<line x1="1102" y1="59.27" x2="1110" y2="59.27" stroke="#231f20" stroke-width="1.15"/>
<line x1="1102" y1="48.52" x2="1110" y2="48.52" stroke="#231f20" stroke-width="1.15"/>
<line x1="1102" y1="39.43" x2="1110" y2="39.43" stroke="#231f20" stroke-width="1.15"/>
<line x1="1102" y1="31.56" x2="1110" y2="31.56" stroke="#231f20" stroke-width="1.15"/>
<line x1="1102" y1="24.61" x2="1110" y2="24.61" stroke="#231f20" stroke-width="1.15"/>
<line x1="1098.1" y1="18.4" x2="1113.9" y2="18.4" stroke="#231f20" stroke-width="1.5"/>
<line x1="105.12" y1="738.07" x2="109.07" y2="738.07" stroke="#231f20" stroke-width="1.15"/>
<line x1="102.02" y1="1418" x2="109.07" y2="1418" stroke="#231f20" stroke-width="1.5"/>
<line x1="102.02" y1="1277" x2="109.07" y2="1277" stroke="#231f20" stroke-width="1.5"/>
<line x1="102.02" y1="1136" x2="109.07" y2="1136" stroke="#231f20" stroke-width="1.5"/>
<line x1="102.02" y1="995" x2="109.07" y2="995" stroke="#231f20" stroke-width="1.5"/>
<line x1="102.02" y1="854" x2="109.07" y2="854" stroke="#231f20" stroke-width="1.5"/>
<line x1="1098.1" y1="1418" x2="1113.9" y2="1418" stroke="#231f20" stroke-width="1.5"/>
<line x1="1098.1" y1="1270.7" x2="1113.9" y2="1270.7" stroke="#231f20" stroke-width="1.5"/>
<line x1="1098.1" y1="1123.4" x2="1113.9" y2="1123.4" stroke="#231f20" stroke-width="1.5"/>
<line x1="1098.1" y1="976.1" x2="1113.9" y2="976.1" stroke="#231f20" stroke-width="1.5"/>
<line x1="1098.1" y1="828.8" x2="1113.9" y2="828.8" stroke="#231f20" stroke-width="1.5"/>
</g>
<g stroke="#231f20" stroke-width="1.5" fill="none" stroke-linecap="square">
<line x1="109.07" y1="18.4" x2="2103.2" y2="18.4" stroke="#231f20" stroke-width="1.5"/>
<line x1="109.07" y1="738.07" x2="2103.2" y2="738.07" stroke="#231f20" stroke-width="1.5"/>
<line x1="109.07" y1="1457.1" x2="2103.2" y2="1457.1" stroke="#231f20" stroke-width="1.5"/>
<line x1="109.07" y1="18.4" x2="109.07" y2="1457.1" stroke="#231f20" stroke-width="1.5"/>
<line x1="1106" y1="18.4" x2="1106" y2="1457.1" stroke="#231f20" stroke-width="1.5"/>
<line x1="2103.2" y1="18.4" x2="2103.2" y2="1457.1" stroke="#231f20" stroke-width="1.5"/>
</g>
<g stroke="#231f20" stroke-width="1.875" fill="none">
<line x1="862.3" y1="46.85" x2="909" y2="46.85" stroke="#231f20" stroke-width="1.875"/>
<line x1="862.3" y1="78.9" x2="909" y2="78.9" stroke="#231f20" stroke-width="1.875" stroke-dasharray="11.931 2.983 1.864 2.983"/>
<line x1="862.3" y1="110.85" x2="909" y2="110.85" stroke="#231f20" stroke-width="1.875" stroke-dasharray="1.864 3.076"/>
</g>
<g stroke="#939598" stroke-width="1.875" fill="none">
<line x1="1859.6" y1="46.85" x2="1906.3" y2="46.85" stroke="#939598" stroke-width="1.875"/>
<line x1="1859.6" y1="78.9" x2="1906.3" y2="78.9" stroke="#939598" stroke-width="1.875" stroke-dasharray="11.931 2.983 1.864 2.983"/>
<line x1="1859.6" y1="110.85" x2="1906.3" y2="110.85" stroke="#939598" stroke-width="1.875" stroke-dasharray="1.864 3.076"/>
</g>
<line x1="912.8" y1="766.75" x2="959.1" y2="766.75" stroke="#231f20" stroke-width="1.875"/>
<circle cx="935.95" cy="766.75" r="6.45" fill="#231f20"/>
<line x1="1909.9" y1="766.75" x2="1956.2" y2="766.75" stroke="#939598" stroke-width="1.875"/>
<circle cx="1933.05" cy="766.75" r="6.45" fill="#939598"/>
<g fill="#231f20" stroke="#231f20" stroke-width="0.45" stroke-linejoin="round" font-family="'Liberation Sans', sans-serif">
<text transform="translate(50.9 711.94) scale(1 1.03)" x="1.12 15.57" font-size="28" clip-path="url(#k0)">10</text>
<text transform="translate(82.45 691.94)" x="0" font-size="19.6">0</text>
<text transform="translate(50.9 576.18) scale(1 1.03)" x="1.12 15.57" font-size="28" clip-path="url(#k0)">10</text>
<text transform="translate(82.45 556.18)" x="0.78" font-size="19.6" clip-path="url(#k1)">1</text>
<text transform="translate(50.9 440.42) scale(1 1.03)" x="1.12 15.57" font-size="28" clip-path="url(#k0)">10</text>
<text transform="translate(82.45 420.42)" x="0" font-size="19.6">2</text>
<text transform="translate(50.9 304.66) scale(1 1.03)" x="1.12 15.57" font-size="28" clip-path="url(#k0)">10</text>
<text transform="translate(82.45 284.66)" x="0" font-size="19.6">3</text>
<text transform="translate(50.9 168.9) scale(1 1.03)" x="1.12 15.57" font-size="28" clip-path="url(#k0)">10</text>
<text transform="translate(82.45 148.9)" x="0" font-size="19.6">4</text>
<text transform="translate(50.9 33.14) scale(1 1.03)" x="1.12 15.57" font-size="28" clip-path="url(#k0)">10</text>
<text transform="translate(82.45 13.14)" x="0" font-size="19.6">5</text>
<text transform="translate(40.9 1428.2) scale(1 1.03)" x="0 15.57 23.35 38.92" font-size="28">0.00</text>
<text transform="translate(40.9 1287.2) scale(1 1.03)" x="0 15.57 23.35 40.04" font-size="28" clip-path="url(#k2)">0.01</text>
<text transform="translate(40.9 1146.2) scale(1 1.03)" x="0 15.57 23.35 38.92" font-size="28">0.02</text>
<text transform="translate(40.9 1005.2) scale(1 1.03)" x="0 15.57 23.35 38.92" font-size="28">0.03</text>
<text transform="translate(40.9 864.2) scale(1 1.03)" x="0 15.57 23.35 38.92" font-size="28">0.04</text>
<text transform="translate(132.98 1510.4) scale(1 1.02)" x="1.5 20.86" font-size="37.5" clip-path="url(#k3)">10</text>
<text transform="translate(175.18 1484.8) scale(1 1.02)" x="0 16.38" font-size="26.25" clip-path="url(#k4)">−1</text>
<text transform="translate(469.36 1510.4) scale(1 1.02)" x="1.5 20.86" font-size="37.5" clip-path="url(#k3)">10</text>
<text transform="translate(511.56 1484.8) scale(1 1.02)" x="0" font-size="26.25">0</text>
<text transform="translate(798.15 1510.4) scale(1 1.02)" x="1.5 20.86" font-size="37.5" clip-path="url(#k3)">10</text>
<text transform="translate(840.35 1484.8) scale(1 1.02)" x="1.05" font-size="26.25" clip-path="url(#k5)">1</text>
<text transform="translate(1129.93 1510.4) scale(1 1.02)" x="1.5 20.86" font-size="37.5" clip-path="url(#k3)">10</text>
<text transform="translate(1172.13 1484.8) scale(1 1.02)" x="0 16.38" font-size="26.25" clip-path="url(#k4)">−1</text>
<text transform="translate(1466.4 1510.4) scale(1 1.02)" x="1.5 20.86" font-size="37.5" clip-path="url(#k3)">10</text>
<text transform="translate(1508.6 1484.8) scale(1 1.02)" x="0" font-size="26.25">0</text>
<text transform="translate(1795.27 1510.4) scale(1 1.02)" x="1.5 20.86" font-size="37.5" clip-path="url(#k3)">10</text>
<text transform="translate(1837.47 1484.8) scale(1 1.02)" x="1.05" font-size="26.25" clip-path="url(#k5)">1</text>
<text transform="translate(168.7 60.8)" font-size="27.9" text-anchor="start">(a) This work</text>
<text transform="translate(1165.2 60.8)" font-size="27.9" text-anchor="start">(b) Tu et al. 2020</text>
<text transform="translate(168.7 780)" font-size="27.9" text-anchor="start">(c) This work</text>
<text transform="translate(1165.2 780)" font-size="27.9" text-anchor="start">(d) Tu et al. 2020</text>
<text transform="translate(926.1 54.8)" font-size="22.3" text-anchor="start">Solar-type Stars</text>
<text transform="translate(926.1 86.65)" font-size="22.3" text-anchor="start">Flare Stars</text>
<text transform="translate(926.1 118.5)" font-size="22.3" text-anchor="start">Superflares</text>
<text transform="translate(1923 54.8)" font-size="22.3" text-anchor="start">Solar-type Stars</text>
<text transform="translate(1923 86.65)" font-size="22.3" text-anchor="start">Flare Stars</text>
<text transform="translate(1923 118.5)" font-size="22.3" text-anchor="start">Superflares</text>
<text transform="translate(608.03 1554)" font-size="37.5" text-anchor="middle">Period (days)</text>
<text transform="translate(1605.1 1554)" font-size="37.5" text-anchor="middle">Period (days)</text>
<text transform="translate(36.4 377.94) rotate(-90)" font-size="37.5" text-anchor="middle">Number</text>
<text transform="translate(26.4 1096.49) rotate(-90)" font-size="37.5" text-anchor="middle">Normalized Fraction</text>
</g>
<g fill="#231f20" stroke="#231f20" stroke-width="0.4" stroke-linejoin="round" font-family="'DejaVu Sans', 'Liberation Sans', sans-serif">
<text x="976" y="774.5" font-size="22.5" font-style="italic">N</text>
<text x="992.8" y="777.8" font-size="15.75">fstar</text>
<text x="1029.2" y="774.5" font-size="22.5">/</text>
<text x="1036.8" y="774.5" font-size="22.5" font-style="italic">N</text>
<text x="1053.3" y="777.8" font-size="15.75">star</text>
<text x="1973.2" y="774.5" font-size="22.5" font-style="italic">N</text>
<text x="1990" y="777.8" font-size="15.75">fstar</text>
<text x="2026.4" y="774.5" font-size="22.5">/</text>
<text x="2034" y="774.5" font-size="22.5" font-style="italic">N</text>
<text x="2050.5" y="777.8" font-size="15.75">star</text>
</g>
</svg>
</body>
</html>
